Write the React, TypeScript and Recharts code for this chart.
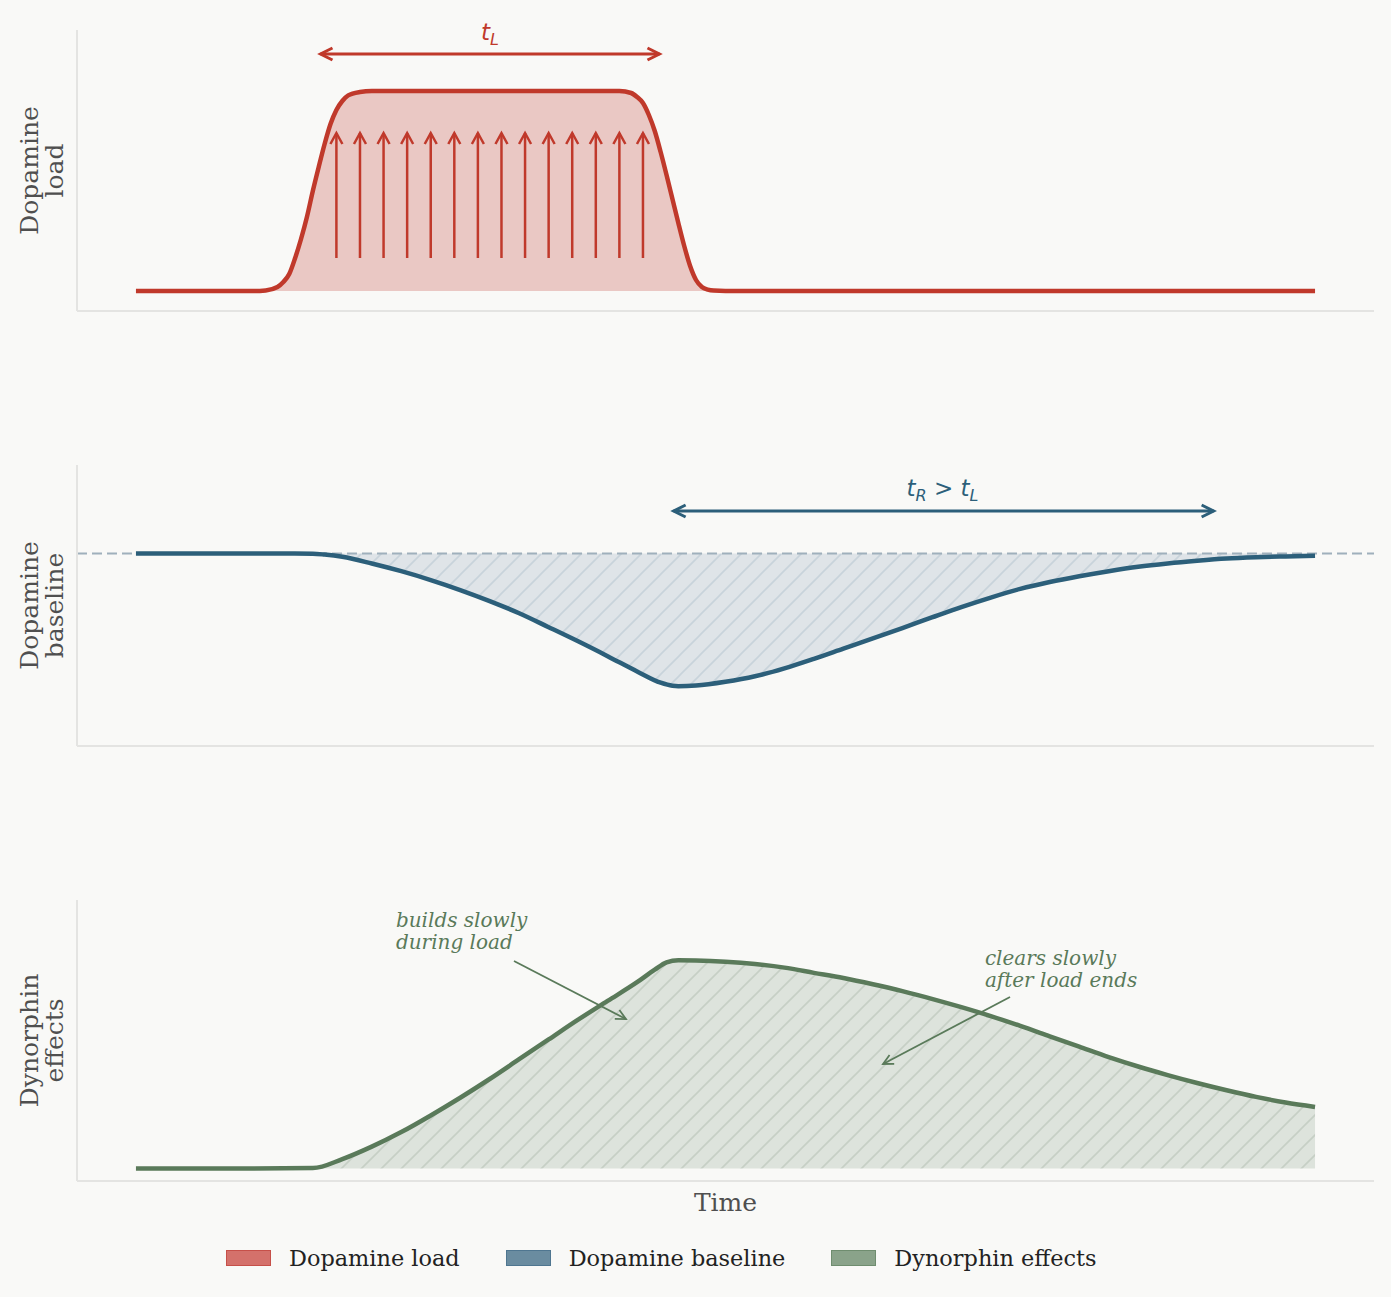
import React from "react";
import { ComposedChart, Area, Line, XAxis, YAxis, ReferenceLine, ReferenceDot } from "recharts";

// Three stacked panels on a shared time axis: load pulse, baseline dip,
// dynorphin build-up. Values are in arbitrary units.

const BG = "#f9f9f7";
const AXIS = "#e4e4e2";
const LABEL = "#4f4f4f";
const SERIF = "'DejaVu Serif', serif";
const MATH = "'DejaVu Sans', sans-serif";

const RED = "#c0392b";
const BLUE = "#2c5f7a";
const GREEN = "#5a7a5a";

const T_DOMAIN: [number, number] = [-0.5, 10.5];

// --- panel 1: dopamine load -------------------------------------------------
const loadTime = [0, 0.5, 1.0, 1.1, 1.2, 1.25, 1.3, 1.35, 1.4, 1.45, 1.5, 1.55, 1.6, 1.65, 1.7, 1.75, 1.8, 1.9, 2.0, 3.0, 4.0, 4.1, 4.2, 4.25, 4.3, 4.35, 4.4, 4.45, 4.5, 4.55, 4.6, 4.65, 4.7, 4.75, 4.8, 4.85, 4.9, 5.0, 6, 7, 8, 9, 10];
const loadLevel = [0, 0, 0, 0.003, 0.02, 0.045, 0.085, 0.165, 0.26, 0.37, 0.5, 0.62, 0.735, 0.835, 0.905, 0.95, 0.978, 0.995, 1, 1, 1, 1, 0.99, 0.97, 0.94, 0.88, 0.8, 0.695, 0.58, 0.46, 0.34, 0.225, 0.125, 0.055, 0.02, 0.007, 0.002, 0, 0, 0, 0, 0, 0];
// individual release events drawn as upward arrows
const pulseTimes = [1.7, 1.9, 2.1, 2.3, 2.5, 2.7, 2.9, 3.1, 3.3, 3.5, 3.7, 3.9, 4.1, 4.3];
const pulseFrom = 0.165;
const pulseTo = 0.79;
const tLSpan = [1.565, 4.44];
const tLRow = 1.185;
const tLLabelRow = 1.255;

// --- panel 2: dopamine baseline ---------------------------------------------
const baselineTime = [0, 0.5, 1.0, 1.5, 1.6, 1.75, 2.0, 2.25, 2.5, 2.75, 3.0, 3.25, 3.5, 3.75, 4.0, 4.25, 4.45, 4.55, 4.6, 4.75, 5.0, 5.25, 5.5, 5.75, 6.0, 6.25, 6.5, 6.75, 7.0, 7.25, 7.5, 7.75, 8.0, 8.25, 8.5, 8.75, 9.0, 9.25, 9.5, 9.75, 10];
const baselineLevel = [1, 1, 1, 0.999, 0.995, 0.985, 0.955, 0.92, 0.88, 0.835, 0.785, 0.73, 0.667, 0.603, 0.536, 0.467, 0.416, 0.402, 0.4, 0.403, 0.42, 0.445, 0.481, 0.524, 0.57, 0.616, 0.663, 0.711, 0.758, 0.801, 0.84, 0.871, 0.897, 0.92, 0.94, 0.955, 0.967, 0.977, 0.983, 0.987, 0.99];
const restingLevel = 1;
const tRSpan = [4.56, 9.14];
const tRRow = 1.192;
const tRLabelRow = 1.26;

// --- panel 3: dynorphin effects ---------------------------------------------
const dynTime = [0, 0.5, 1.0, 1.5, 1.75, 2.0, 2.25, 2.5, 2.75, 3.0, 3.25, 3.5, 3.75, 4.0, 4.25, 4.4, 4.5, 4.6, 4.75, 5.0, 5.25, 5.5, 5.75, 6.0, 6.25, 6.5, 6.75, 7.0, 7.25, 7.5, 7.75, 8.0, 8.25, 8.5, 8.75, 9.0, 9.25, 9.5, 9.75, 10];
const dynLevel = [0, 0, 0, 0.002, 0.045, 0.105, 0.175, 0.255, 0.34, 0.43, 0.525, 0.62, 0.715, 0.805, 0.895, 0.955, 0.99, 1.0, 0.999, 0.993, 0.982, 0.965, 0.94, 0.915, 0.885, 0.852, 0.815, 0.775, 0.732, 0.685, 0.635, 0.585, 0.535, 0.49, 0.449, 0.411, 0.376, 0.344, 0.317, 0.296];

const noteText = [
  ["builds slowly", "during load"],
  ["clears slowly", "after load ends"],
];
const noteAt = [
  { t: 2.205, v: 1.16 },
  { t: 7.2, v: 0.978 },
];
const noteArrows = [
  [{ x: 3.206, y: 0.997 }, { x: 4.156, y: 0.718 }],
  [{ x: 7.413, y: 0.824 }, { x: 6.336, y: 0.502 }],
];

const panelNames = ["Dopamine load", "Dopamine baseline", "Dynorphin effects"];
const panelAxisLabels = [["Dopamine", "load"], ["Dopamine", "baseline"], ["Dynorphin", "effects"]];
const legendFill = ["#d4716b", "#6a8ca0", "#8aa38a"];
const legendEdge = ["#c65049", "#4f7690", "#6f8d6f"];

const toRows = (ts: number[], vs: number[]) => ts.map((t, i) => ({ t, v: vs[i] }));

const W = 1391;
// axes are 1px wide/high so they still render; plot area spans x 77..1374
const MARGIN = { top: 30, right: 17, left: 76, bottom: 123 };

// open "->" style arrow, optionally with a head on both ends
function arrowShape(color: string, width: number, both: boolean, len = 11, half = 6) {
  return (p: any) => {
    const { x1, y1, x2, y2 } = p;
    const dx = x2 - x1;
    const dy = y2 - y1;
    const L = Math.hypot(dx, dy) || 1;
    const ux = dx / L;
    const uy = dy / L;
    const head = (tx: number, ty: number, sx: number, sy: number) => {
      const bx = tx - sx * len;
      const by = ty - sy * len;
      return `M${bx - sy * half},${by + sx * half}L${tx},${ty}L${bx + sy * half},${by - sx * half}`;
    };
    return (
      <g>
        <line x1={x1} y1={y1} x2={x2} y2={y2} stroke={color} strokeWidth={width} />
        <path d={head(x2, y2, ux, uy)} fill="none" stroke={color} strokeWidth={width} />
        {both && <path d={head(x1, y1, -ux, -uy)} fill="none" stroke={color} strokeWidth={width} />}
      </g>
    );
  };
}

function yLabel(lines: string[]) {
  return (props: any) => {
    const vb = props.viewBox;
    const cy = vb.y + vb.height / 2;
    const right = vb.x + vb.width;
    return (
      <g>
        {lines.map((s, i) => (
          <text
            key={s}
            transform={`translate(${right - 48 + i * 25}, ${cy}) rotate(-90)`}
            textAnchor="middle"
            dominantBaseline="central"
            fontFamily={SERIF}
            fontSize={25}
            fill={LABEL}
          >
            {s}
          </text>
        ))}
      </g>
    );
  };
}

// math-style label: italic t with a subscript
function mathLabel(parts: Array<[string, string] | string>, color: string) {
  return (p: any) => (
    <text x={p.cx} y={p.cy} textAnchor="middle" fontFamily={MATH} fontSize={23} fill={color}>
      {parts.map((part, i) =>
        typeof part === "string" ? (
          <tspan key={i} dy={-5}>{part}</tspan>
        ) : (
          <React.Fragment key={i}>
            <tspan fontStyle="italic">{part[0]}</tspan>
            <tspan fontStyle="italic" fontSize={16} dy={5}>{part[1]}</tspan>
          </React.Fragment>
        )
      )}
    </text>
  );
}

function noteLabel(lines: string[]) {
  return (p: any) => (
    <text x={p.cx} y={p.cy} fontFamily={SERIF} fontStyle="italic" fontSize={20} fill={GREEN}>
      {lines.map((s, i) => (
        <tspan key={s} x={p.cx} dy={i === 0 ? 0 : 22}>{s}</tspan>
      ))}
    </text>
  );
}

const axisLine = { stroke: AXIS, strokeWidth: 2 };

function LoadPanel() {
  const data = toRows(loadTime, loadLevel);
  return (
    <ComposedChart width={W} height={435} data={data} margin={MARGIN}>
      <XAxis type="number" dataKey="t" domain={T_DOMAIN} height={1} tick={false} tickLine={false} axisLine={axisLine} allowDataOverflow />
      <YAxis type="number" domain={[-0.1, 1.305]} width={1} tick={false} tickLine={false} axisLine={axisLine} allowDataOverflow label={{ content: yLabel(panelAxisLabels[0]) }} />
      <Area
        type="monotone"
        dataKey="v"
        baseValue={0}
        stroke={RED}
        strokeWidth={4.5}
        fill={RED}
        fillOpacity={0.25}
        isAnimationActive={false}
        dot={false}
        activeDot={false}
      />
      {pulseTimes.map((t) => (
        <ReferenceLine
          key={t}
          segment={[{ x: t, y: pulseFrom }, { x: t, y: pulseTo }]}
          shape={arrowShape(RED, 2.5, false, 11, 6)}
        />
      ))}
      <ReferenceLine
        segment={[{ x: tLSpan[0], y: tLRow }, { x: tLSpan[1], y: tLRow }]}
        shape={arrowShape(RED, 3, true, 12, 6)}
      />
      <ReferenceDot x={(tLSpan[0] + tLSpan[1]) / 2} y={tLLabelRow} r={0} shape={mathLabel([["t", "L"]], RED)} />
    </ComposedChart>
  );
}

function BaselinePanel() {
  // resting level spans the whole time axis as a dashed guide
  const data = [
    { t: T_DOMAIN[0], rest: restingLevel },
    ...toRows(baselineTime, baselineLevel).map((r) => ({ ...r, rest: restingLevel })),
    { t: T_DOMAIN[1], rest: restingLevel },
  ];
  return (
    <ComposedChart width={W} height={435} data={data} margin={MARGIN}>
      <defs>
        <pattern id="hatchBlue" patternUnits="userSpaceOnUse" width={20} height={20}>
          <rect width={20} height={20} fill="#dfe4e8" />
          <path d="M-5,5L5,-5M0,20L20,0M15,25L25,15" stroke="#c8d3db" strokeWidth={1.6} />
        </pattern>
      </defs>
      <XAxis type="number" dataKey="t" domain={T_DOMAIN} height={1} tick={false} tickLine={false} axisLine={axisLine} allowDataOverflow />
      <YAxis type="number" domain={[0.13, 1.4]} width={1} tick={false} tickLine={false} axisLine={axisLine} allowDataOverflow label={{ content: yLabel(panelAxisLabels[1]) }} />
      <Area type="monotone" dataKey="v" baseValue={restingLevel} stroke="none" fill="url(#hatchBlue)" fillOpacity={1} isAnimationActive={false} dot={false} activeDot={false} />
      <Line type="linear" dataKey="rest" stroke="#9fb0bc" strokeWidth={2.2} strokeDasharray="10 5" dot={false} activeDot={false} isAnimationActive={false} />
      <Line type="monotone" dataKey="v" stroke={BLUE} strokeWidth={4.5} dot={false} activeDot={false} isAnimationActive={false} />
      <ReferenceLine
        segment={[{ x: tRSpan[0], y: tRRow }, { x: tRSpan[1], y: tRRow }]}
        shape={arrowShape(BLUE, 3, true, 12, 6)}
      />
      <ReferenceDot x={(tRSpan[0] + tRSpan[1]) / 2 - 0.01} y={tRLabelRow} r={0} shape={mathLabel([["t", "R"], " > ", ["t", "L"]], BLUE)} />
    </ComposedChart>
  );
}

function DynorphinPanel() {
  const data = toRows(dynTime, dynLevel);
  return (
    <ComposedChart width={W} height={427} data={data} margin={{ ...MARGIN, bottom: 115 }}>
      <defs>
        <pattern id="hatchGreen" patternUnits="userSpaceOnUse" width={20} height={20}>
          <rect width={20} height={20} fill="#dde3dc" />
          <path d="M-5,5L5,-5M0,20L20,0M15,25L25,15" stroke="#c6cfc5" strokeWidth={1.6} />
        </pattern>
      </defs>
      <XAxis
        type="number"
        dataKey="t"
        domain={T_DOMAIN}
        height={1}
        tick={false}
        tickLine={false}
        axisLine={axisLine}
        allowDataOverflow
        label={{
          content: (p: any) => (
            <text x={p.viewBox.x + p.viewBox.width / 2} y={p.viewBox.y + 30} textAnchor="middle" fontFamily={SERIF} fontSize={25} fill={LABEL}>
              Time
            </text>
          ),
        }}
      />
      <YAxis type="number" domain={[-0.06, 1.29]} width={1} tick={false} tickLine={false} axisLine={axisLine} allowDataOverflow label={{ content: yLabel(panelAxisLabels[2]) }} />
      <Area type="monotone" dataKey="v" baseValue={0} stroke={GREEN} strokeWidth={4.5} fill="url(#hatchGreen)" fillOpacity={1} isAnimationActive={false} dot={false} activeDot={false} />
      {noteArrows.map((seg, i) => (
        <ReferenceLine key={i} segment={seg} shape={arrowShape(GREEN, 1.8, false, 10, 5)} />
      ))}
      {noteAt.map((n, i) => (
        <ReferenceDot key={i} x={n.t} y={n.v} r={0} shape={noteLabel(noteText[i])} />
      ))}
    </ComposedChart>
  );
}

function Legend() {
  return (
    <div style={{ position: "absolute", left: 226, top: 1245, display: "flex", alignItems: "center", fontFamily: SERIF, fontSize: 22.4, color: "#222" }}>
      {panelNames.map((name, i) => (
        <div key={name} style={{ display: "flex", alignItems: "center", marginRight: 46 }}>
          <div style={{ width: 43, height: 14, background: legendFill[i], border: `1.5px solid ${legendEdge[i]}`, marginRight: 18 }} />
          <span>{name}</span>
        </div>
      ))}
    </div>
  );
}

export default function App() {
  return (
    <div style={{ position: "absolute", left: 0, top: 0, width: 1391, height: 1297, background: BG, overflow: "hidden" }}>
      <div style={{ position: "absolute", left: 0, top: 0 }}>
        <LoadPanel />
      </div>
      <div style={{ position: "absolute", left: 0, top: 435 }}>
        <BaselinePanel />
      </div>
      <div style={{ position: "absolute", left: 0, top: 870 }}>
        <DynorphinPanel />
      </div>
      <Legend />
    </div>
  );
}
